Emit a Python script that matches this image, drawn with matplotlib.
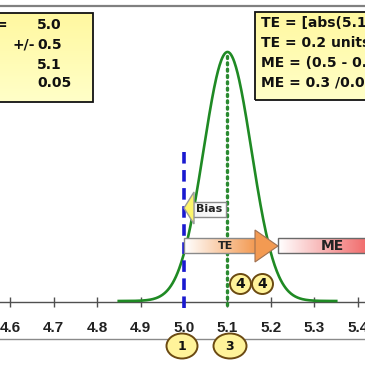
import numpy as np
import matplotlib
matplotlib.use("Agg")
import matplotlib.pyplot as plt
from matplotlib.patches import Rectangle, Polygon, Ellipse

# ---- data ----
target = 5.0
mean_value = 5.1
sd_value = 0.055
curve_range = (4.85, 5.35)
tick_values = [4.6, 4.7, 4.8, 4.9, 5.0, 5.1, 5.2, 5.3, 5.4]
tick_labels = ["4.6", "4.7", "4.8", "4.9", "5.0", "5.1", "5.2", "5.3", "5.4"]
te_end = 5.216
left_ops = ["=", "+/-", "", ""]
left_values = ["5.0", "0.5", "5.1", "0.05"]
right_lines = ["TE = [abs(5.1 - 5.0)] + 2 x 0.05",
               "TE = 0.2 units",
               "ME = (0.5 - 0.2)/0.05",
               "ME = 0.3 /0.05 = 6"]

xs = np.linspace(curve_range[0], curve_range[1], 400)
pdf = np.exp(-0.5 * ((xs - mean_value) / sd_value) ** 2) / (sd_value * np.sqrt(2 * np.pi))
peak = pdf.max()

fig = plt.figure(figsize=(3.65, 3.65), dpi=100)
ax = fig.add_axes([0, 0, 1, 1])

PXU = 435.0
X0 = 4.6 - 10 / PXU
scale = peak / 249.0

def xd(px):
    return X0 + px / PXU

def yd(py):
    return (302 - py) * scale

# curve
ax.plot(xs, pdf + 1 * scale, color="#1f8a24", lw=1.9, zorder=3)

# vertical lines
ax.plot([target, target], [yd(152), yd(312)], color="#1a1ad0", lw=2.6,
        ls=(0, (3.2, 1.8)), zorder=4)
ax.plot([mean_value, mean_value], [yd(56), yd(308)], color="#2a8a30", lw=2.4,
        ls=(0, (0.6, 1.3)), dash_capstyle="round", zorder=4)

# axis
ax.spines[["top", "right", "left"]].set_visible(False)
ax.spines["bottom"].set_position(("data", 0))
ax.spines["bottom"].set_color("#505050")
ax.spines["bottom"].set_linewidth(1.0)
ax.set_yticks([])
ax.set_xticks(tick_values)
ax.set_xticklabels(tick_labels, fontfamily="Liberation Sans", fontweight="bold",
                   fontsize=11, color="#222222")
ax.tick_params(axis="x", direction="inout", length=7, width=1.0, color="#505050", pad=10.5)

# top and lower gray lines
ax.plot([xd(-5), xd(370)], [yd(5.5), yd(5.5)], color="#808080", lw=1.6, zorder=2, clip_on=False)
ax.plot([xd(-5), xd(370)], [yd(338.5), yd(338.5)], color="#8a8a8a", lw=1.0, zorder=2, clip_on=False)

def grad_rect(x0, x1, y0, y1, c0, c1, z, vertical=False):
    c0 = np.array(matplotlib.colors.to_rgb(c0))
    c1 = np.array(matplotlib.colors.to_rgb(c1))
    t = np.linspace(0, 1, 100)
    if vertical:
        img = (c0[None, :] * (1 - t[:, None]) + c1[None, :] * t[:, None])[:, None, :]
    else:
        img = (c0[None, :] * (1 - t[:, None]) + c1[None, :] * t[:, None])[None, :, :]
    ax.imshow(img, extent=[x0, x1, y0, y1], aspect="auto", zorder=z, interpolation="bilinear")

# left box
grad_rect(xd(-5), xd(93), yd(102), yd(13), "#fff8a0", "#ffffc8", 5, vertical=True)
ax.add_patch(Rectangle((xd(-5), yd(102)), xd(93) - xd(-5), yd(13) - yd(102),
                       fill=False, ec="#111111", lw=1.3, zorder=6))
left_y = [25, 45, 65, 83]
for op, val, y in zip(left_ops, left_values, left_y):
    if op == "=":
        ax.text(xd(7), yd(y), op, ha="right", va="center", fontsize=10,
                fontweight="bold", family="DejaVu Sans", color="#111111", zorder=7)
    elif op:
        ax.text(xd(35), yd(y), op, ha="right", va="center", fontsize=10,
                fontweight="bold", family="DejaVu Sans", color="#111111", zorder=7)
    ax.text(xd(37), yd(y), val, ha="left", va="center", fontsize=10,
            fontweight="bold", family="DejaVu Sans", color="#111111", zorder=7)

# right box
grad_rect(xd(255), xd(372), yd(100), yd(12), "#fff8a0", "#ffffc8", 5, vertical=True)
ax.add_patch(Rectangle((xd(255), yd(100)), xd(372) - xd(255), yd(12) - yd(100),
                       fill=False, ec="#111111", lw=1.3, zorder=6, clip_on=False))
right_y = [23, 43, 63, 82]
for line, y in zip(right_lines, right_y):
    ax.text(xd(261), yd(y), line, ha="left", va="center", fontsize=10,
            fontweight="bold", family="DejaVu Sans", color="#111111", zorder=7)

# Bias arrow (points from mean to target)
grad_rect(xd(193), mean_value - 0.004, yd(217), yd(202), "#f2f2f2", "#ffffff", 8)
ax.add_patch(Rectangle((xd(193), yd(217)), mean_value - 0.004 - xd(193), yd(202) - yd(217),
                       fill=False, ec="#8a8a8a", lw=1.0, zorder=9))
ax.add_patch(Polygon([(target, yd(208)), (xd(194), yd(192)), (xd(194), yd(224))],
                     closed=True, fc="#fdf56a", ec="#9a9a9a", lw=1.0, zorder=9))
ax.text(xd(209), yd(209.5), "Bias", ha="center", va="center", fontsize=8,
        fontweight="bold", family="DejaVu Sans", color="#222222", zorder=10)

# TE arrow
grad_rect(target, xd(256), yd(253), yd(238), "#ffffff", "#f39a52", 8)
ax.add_patch(Rectangle((target, yd(253)), xd(256) - target, yd(238) - yd(253),
                       fill=False, ec="#8a8a8a", lw=1.0, zorder=9))
ax.add_patch(Polygon([(xd(255), yd(230)), (te_end, yd(246)), (xd(255), yd(262))],
                     closed=True, fc="#f39a52", ec="#a07050", lw=0.8, zorder=9))
ax.text(xd(226), yd(246), "TE", ha="center", va="center", fontsize=8,
        fontweight="bold", family="DejaVu Sans", color="#222222", zorder=10)

# ME box
grad_rect(te_end, xd(372), yd(253), yd(238), "#ffffff", "#f06262", 8)
ax.add_patch(Rectangle((te_end, yd(253)), xd(372) - te_end, yd(238) - yd(253),
                       fill=False, ec="#6a6a6a", lw=1.0, zorder=9, clip_on=False))
ax.text(xd(332), yd(246), "ME", ha="center", va="center", fontsize=10,
        fontweight="bold", family="DejaVu Sans", color="#222222", zorder=10)

# numbered circles
def circ(cx, cy, w, h, label, fs):
    ax.add_patch(Ellipse((xd(cx), yd(cy)), w / PXU, h * scale, fc="#fff39a",
                         ec="#6b4a12", lw=1.4, zorder=11, clip_on=False))
    ax.text(xd(cx), yd(cy), label, ha="center", va="center", fontsize=fs,
            fontweight="bold", family="DejaVu Sans", color="#111111", zorder=12)

circ(182, 346, 31, 25, "1", 9)
circ(230, 346, 33, 25, "3", 9)
circ(240.5, 284, 21, 20, "4", 10)
circ(262.5, 284, 21, 20, "4", 10)

ax.set_autoscale_on(False)
ax.set_xlim(xd(0), xd(365))
ax.set_ylim(yd(365), yd(0))

fig.savefig("out.png", dpi=100)
